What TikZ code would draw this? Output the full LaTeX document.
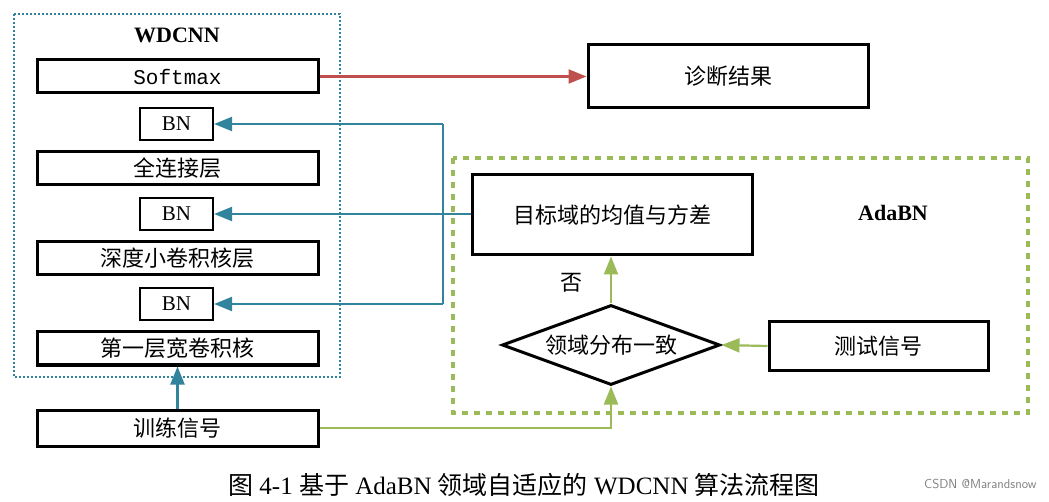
\documentclass[tikz,border=0pt]{standalone}
\usepackage{fontspec}
\setmainfont{Liberation Serif}
\newfontfamily\cjk{Noto Sans CJK SC}
\newfontfamily\mono{Liberation Mono}
\usetikzlibrary{shapes.geometric,arrows.meta}
\definecolor{teal1}{HTML}{31849B}
\definecolor{red1}{HTML}{C0504D}
\definecolor{grn}{HTML}{9BBB59}
\begin{document}
\begin{tikzpicture}[x=1pt,y=-1pt,
 box/.style={draw=black,line width=3pt,minimum height=33pt,inner sep=0pt,font=\fontsize{22}{26}\selectfont\cjk},
 big/.style={box,minimum width=281pt},
 bn/.style={box,minimum width=73pt,minimum height=32pt,line width=2.2pt,font=\fontsize{21}{24}\selectfont},
 ta/.style={teal1,line width=2.2pt,-{Triangle[length=18pt,width=14pt]}},
 ga/.style={grn,line width=2.2pt,-{Triangle[length=18pt,width=14pt]}},
 ]
\useasboundingbox (0,0) rectangle (1049,502);
\draw[teal1,line width=1.3pt,dash pattern=on 2pt off 2pt] (14,14) rectangle (340,377);
\node[font=\fontsize{22}{26}\selectfont\bfseries] at (177,35) {WDCNN};
\node[big,font=\fontsize{21}{26}\selectfont\mono] (sm) at (177.5,76.5) {Softmax};
\node[bn] (bn1) at (176.5,124) {BN};
\node[big] (fc) at (177.5,168.5) {全连接层};
\node[bn] (bn2) at (176.5,214) {BN};
\node[big] (dc) at (177.5,258.5) {深度小卷积核层};
\node[bn] (bn3) at (176.5,304) {BN};
\node[big] (wc) at (177.5,348.5) {第一层宽卷积核};
\node[big,minimum height=36pt] (tr) at (177.5,428) {训练信号};
\node[box,minimum width=280pt,minimum height=63pt] (res) at (728,76.5) {诊断结果};
\draw[grn,line width=4pt,dash pattern=on 6pt off 6pt] (453,158) rectangle (1028,413);
\node[font=\fontsize{22}{26}\selectfont\bfseries] at (893,213) {AdaBN};
\node[box,minimum width=280pt,minimum height=80pt] (tg) at (612,215) {目标域的均值与方差};
\node[diamond,draw=black,line width=3pt,minimum width=218pt,minimum height=80pt,aspect=2.7,inner sep=0pt] (dm) at (611,345) {};
\node[font=\fontsize{22}{26}\selectfont\cjk] at (611,345) {领域分布一致};
\node[box,minimum width=219pt,minimum height=48pt] (ts) at (878.5,346) {测试信号};
\node[font=\fontsize{22}{26}\selectfont\cjk] at (571,283) {否};
\draw[red1,line width=2.2pt,-{Triangle[length=18pt,width=14pt]}] (sm.east) -- (res.west |- sm.east);
\coordinate (v1) at (443,124);
\coordinate (v3) at (443,304);
\draw[ta] (tg.west |- bn2.east) -- (bn2.east);
\draw[teal1,line width=2.2pt] (v1) -- (v3);
\draw[ta] (v1) -- (bn1.east);
\draw[ta] (v3) -- (bn3.east);
\draw[ta] (tr.north) -- (wc.south);
\coordinate (c1) at (611,428);
\draw[ga] (tr.east) -- (c1) -- (dm.south);
\draw[ga] (ts.west) -- (dm.east);
\draw[ga] (dm.north) -- (tg.south -| dm.north);
\node[font=\fontsize{25}{28}\selectfont] at (524,485) {{\cjk 图} 4-1 {\cjk 基于} AdaBN {\cjk 领域自适应的} WDCNN {\cjk 算法流程图}};
\node[font=\fontsize{13}{15}\selectfont\sffamily,text=gray,anchor=east] at (1040,484) {CSDN @Marandsnow};
\end{tikzpicture}
\end{document}
